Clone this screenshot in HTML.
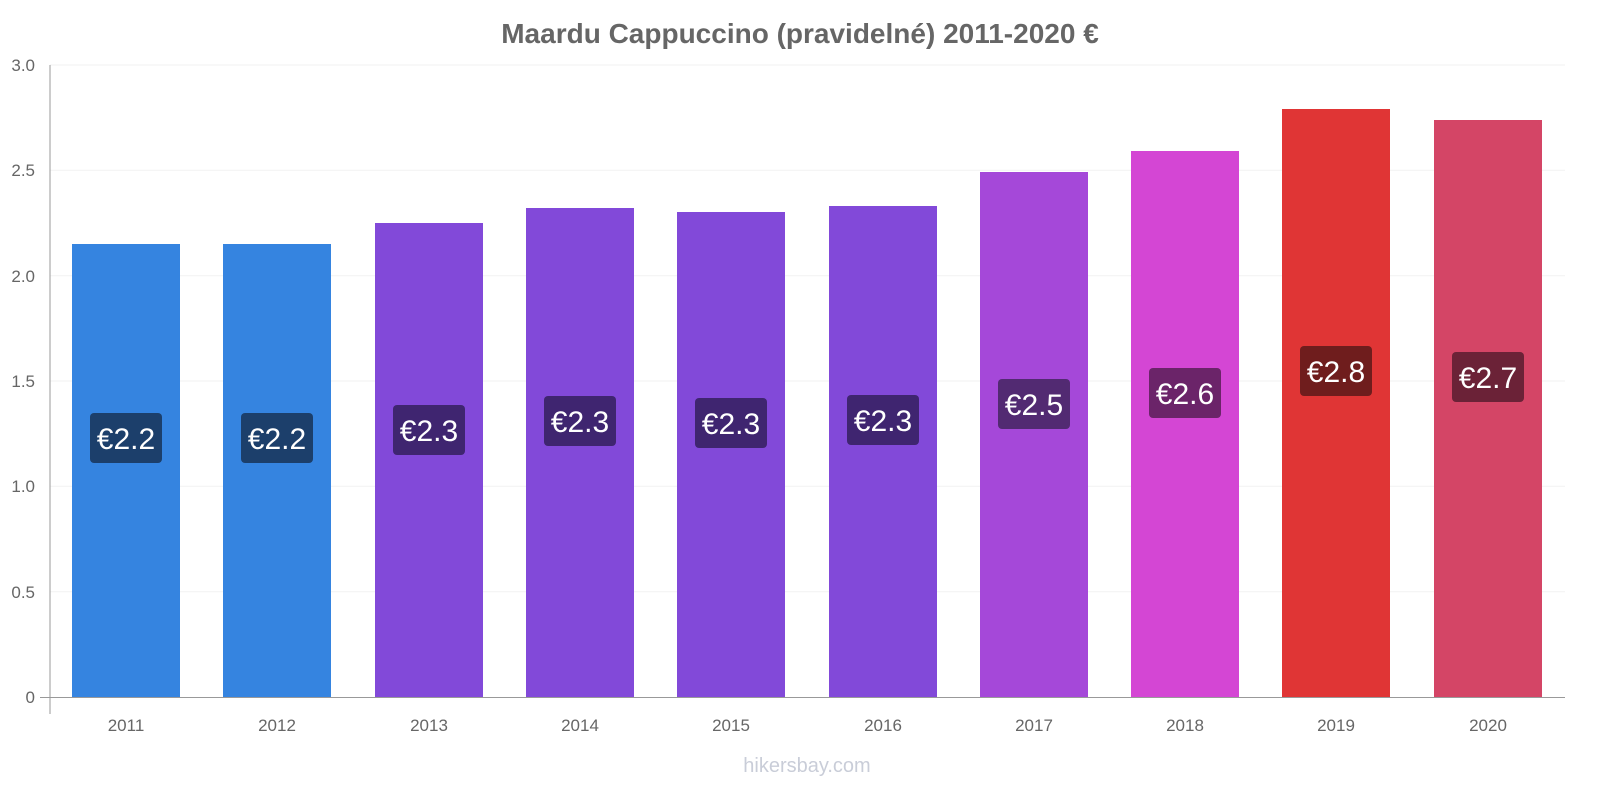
<!DOCTYPE html><html><head><meta charset="utf-8"><style>html,body{margin:0;padding:0;background:#fff;overflow:hidden;width:1600px;height:800px}svg{display:block}svg text{font-family:"Liberation Sans",sans-serif}</style></head><body>
<svg width="1600" height="800" xmlns="http://www.w3.org/2000/svg">
<text x="800" y="43" text-anchor="middle" font-size="28" font-weight="bold" fill="#666">Maardu Cappuccino (pravidelné) 2011-2020 €</text>
<g stroke="#f2f2f2" stroke-width="1">
<line x1="50" x2="1565" y1="65" y2="65"/><line x1="50" x2="1565" y1="170.3" y2="170.3"/><line x1="50" x2="1565" y1="275.7" y2="275.7"/><line x1="50" x2="1565" y1="381" y2="381"/><line x1="50" x2="1565" y1="486.3" y2="486.3"/><line x1="50" x2="1565" y1="591.7" y2="591.7"/></g>
<g font-size="17" fill="#666" text-anchor="end">
<text x="35" y="71">3.0</text><text x="35" y="176">2.5</text><text x="35" y="282">2.0</text><text x="35" y="387">1.5</text><text x="35" y="492">1.0</text><text x="35" y="598">0.5</text><text x="35" y="703">0</text></g>
<line x1="50" x2="50" y1="65" y2="714" stroke="#999"/>
<line x1="40" x2="1565" y1="697.5" y2="697.5" stroke="#999"/>
<g>
<rect x="72" y="244" width="108" height="453" fill="#3584e0"/>
<rect x="223" y="244" width="108" height="453" fill="#3584e0"/>
<rect x="375" y="223" width="108" height="474" fill="#8249d9"/>
<rect x="526" y="208" width="108" height="489" fill="#8249d9"/>
<rect x="677" y="212" width="108" height="485" fill="#8249d9"/>
<rect x="829" y="206" width="108" height="491" fill="#8249d9"/>
<rect x="980" y="172" width="108" height="525" fill="#a548d9"/>
<rect x="1131" y="151" width="108" height="546" fill="#d446d4"/>
<rect x="1282" y="109" width="108" height="588" fill="#e03535"/>
<rect x="1434" y="120" width="108" height="577" fill="#d44566"/>
</g>
<g font-size="30" fill="#fff" text-anchor="middle">
<rect x="90" y="413" width="72" height="50" rx="4" fill="#1c3f6b"/><text x="126" y="449">€2.2</text>
<rect x="241" y="413" width="72" height="50" rx="4" fill="#1c3f6b"/><text x="277" y="449">€2.2</text>
<rect x="393" y="405" width="72" height="50" rx="4" fill="#3f2570"/><text x="429" y="441">€2.3</text>
<rect x="544" y="396" width="72" height="50" rx="4" fill="#3f2570"/><text x="580" y="432">€2.3</text>
<rect x="695" y="398" width="72" height="50" rx="4" fill="#3f2570"/><text x="731" y="434">€2.3</text>
<rect x="847" y="395" width="72" height="50" rx="4" fill="#3f2570"/><text x="883" y="431">€2.3</text>
<rect x="998" y="379" width="72" height="50" rx="4" fill="#522a72"/><text x="1034" y="415">€2.5</text>
<rect x="1149" y="368" width="72" height="50" rx="4" fill="#6b2469"/><text x="1185" y="404">€2.6</text>
<rect x="1300" y="346" width="72" height="50" rx="4" fill="#6f1d1d"/><text x="1336" y="382">€2.8</text>
<rect x="1452" y="352" width="72" height="50" rx="4" fill="#6b2237"/><text x="1488" y="388">€2.7</text>
</g>
<g font-size="17" fill="#666" text-anchor="middle">
<text x="126" y="731">2011</text><text x="277" y="731">2012</text><text x="429" y="731">2013</text><text x="580" y="731">2014</text><text x="731" y="731">2015</text><text x="883" y="731">2016</text><text x="1034" y="731">2017</text><text x="1185" y="731">2018</text><text x="1336" y="731">2019</text><text x="1488" y="731">2020</text></g>
<text x="807" y="772" text-anchor="middle" font-size="20" fill="#c9cdd8">hikersbay.com</text>
</svg></body></html>
